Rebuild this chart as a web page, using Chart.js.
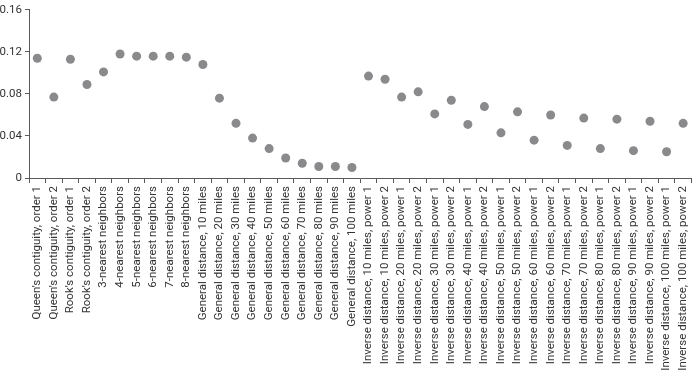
<!DOCTYPE html>
<html>
<head>
<meta charset="utf-8">
<script src="https://cdn.jsdelivr.net/npm/chart.js@4/dist/chart.umd.min.js"></script>
<style>
html,body{margin:0;padding:0;background:#fff;}
#wrap{width:700px;height:377px;position:relative;}
</style>
</head>
<body>
<div id="wrap"><canvas id="c"></canvas></div>
<script>
const categories = [
  "Queen's contiguity, order 1", "Queen's contiguity, order 2",
  "Rook's contiguity, order 1", "Rook's contiguity, order 2",
  "3-nearest neighbors", "4-nearest neighbors", "5-nearest neighbors",
  "6-nearest neighbors", "7-nearest neighbors", "8-nearest neighbors",
  "General distance, 10 miles", "General distance, 20 miles", "General distance, 30 miles",
  "General distance, 40 miles", "General distance, 50 miles", "General distance, 60 miles",
  "General distance, 70 miles", "General distance, 80 miles", "General distance, 90 miles",
  "General distance, 100 miles",
  "Inverse distance, 10 miles, power 1", "Inverse distance, 10 miles, power 2",
  "Inverse distance, 20 miles, power 1", "Inverse distance, 20 miles, power 2",
  "Inverse distance, 30 miles, power 1", "Inverse distance, 30 miles, power 2",
  "Inverse distance, 40 miles, power 1", "Inverse distance, 40 miles, power 2",
  "Inverse distance, 50 miles, power 1", "Inverse distance, 50 miles, power 2",
  "Inverse distance, 60 miles, power 1", "Inverse distance, 60 miles, power 2",
  "Inverse distance, 70 miles, power 1", "Inverse distance, 70 miles, power 2",
  "Inverse distance, 80 miles, power 1", "Inverse distance, 80 miles, power 2",
  "Inverse distance, 90 miles, power 1", "Inverse distance, 90 miles, power 2",
  "Inverse distance, 100 miles, power 1", "Inverse distance, 100 miles, power 2"
];
const values = [
  0.114, 0.077, 0.113, 0.089, 0.101, 0.118, 0.116, 0.116, 0.116, 0.115,
  0.108, 0.076, 0.052, 0.038, 0.028, 0.019, 0.014, 0.011, 0.011, 0.010,
  0.097, 0.094, 0.077, 0.082, 0.061, 0.074, 0.051, 0.068, 0.043, 0.063,
  0.036, 0.060, 0.031, 0.057, 0.028, 0.056, 0.026, 0.054, 0.025, 0.052
];
const yTicks = [0, 0.04, 0.08, 0.12, 0.16];
const yTickLabels = ["0", "0.04", "0.08", "0.12", "0.16"];

const axisColor = '#5a5a5a';
const textColor = '#333333';
const font = {family: 'Roboto', size: 11.5};

new Chart(document.getElementById('c'), {
  type: 'line',
  data: {
    labels: categories,
    datasets: [{
      data: values,
      showLine: false,
      pointRadius: 4.5,
      pointHoverRadius: 4.5,
      pointBackgroundColor: '#8a8a8c',
      pointBorderWidth: 0
    }]
  },
  options: {
    responsive: true,
    maintainAspectRatio: false,
    animation: false,
    layout: {padding: {top: 0, right: 1, left: 0, bottom: 0}},
    plugins: {legend: {display: false}, tooltip: {enabled: false}},
    scales: {
      x: {
        type: 'category',
        offset: true,
        grid: {display: true, drawOnChartArea: false, drawTicks: true, tickLength: 5, color: axisColor, offset: true},
        border: {display: true, color: axisColor, width: 1},
        ticks: {color: textColor, font: font, maxRotation: 90, minRotation: 90, autoSkip: false, padding: 3},
        afterFit: (s) => { s.height = 199; }
      },
      y: {
        min: 0, max: 0.16,
        afterBuildTicks: (s) => { s.ticks = yTicks.map(v => ({value: v})); },
        grid: {display: true, drawOnChartArea: false, drawTicks: true, tickLength: 4, color: axisColor},
        border: {display: true, color: axisColor, width: 1},
        ticks: {
          color: textColor, font: font, padding: 3,
          callback: (v) => { const i = yTicks.indexOf(v); return i >= 0 ? yTickLabels[i] : ''; }
        },
        afterFit: (s) => { s.width = 29; }
      }
    }
  }
});
</script>
</body>
</html>
